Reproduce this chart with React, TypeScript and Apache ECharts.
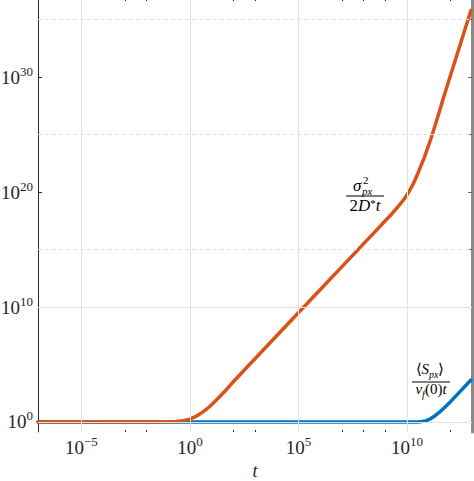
import React, { useEffect, useRef } from "react";
import * as echarts from "echarts";

// log10(t) sample positions and log10 of the plotted quantities
const logTSigma = [-7, -4, -1.5, -1, -0.6, -0.3, 0, 0.2, 0.4, 0.6, 0.8, 1, 1.3, 1.6, 2, 4, 6, 8, 9.3, 9.6, 9.9, 10.1, 10.3, 10.5, 10.8, 11.1, 11.4, 11.7, 12, 12.5, 12.95];
const logSigma = [0, 0, 0.005, 0.015, 0.05, 0.12, 0.25, 0.42, 0.62, 0.88, 1.17, 1.5, 2.06, 2.65, 3.5, 7.5, 11.5, 15.5, 18.1, 18.75, 19.45, 20.05, 20.75, 21.6, 23.0, 24.6, 26.4, 28.3, 30.1, 33.1, 35.8];
const logTS = [-7, 10, 10.5, 10.7, 10.9, 11.1, 11.3, 11.5, 11.7, 12, 12.5, 12.95];
const logS = [0, 0, 0.01, 0.04, 0.12, 0.3, 0.55, 0.85, 1.2, 1.75, 2.75, 3.65];

const xMajorTicks = [-5, 0, 5, 10];
const xMinorTicks = [-3, -2, 2, 3, 7, 8, 9, 12];
const yLabelTicks = [0, 10, 20, 30];
const yTickMarks = [0, 10, 15, 20, 25, 30, 35];
const xGridLines = [-5, 0, 5, 10];
const ySolidGrid = [0, 10];
const yDashedGrid = [15, 25, 35];

const X_MIN = -7;
const X_MAX = 13;
const Y_MIN = -0.87;
const Y_MAX = 36.8;

const FONT = "Liberation Serif";
const INK = "#262626";
const ORANGE = "#D95319";
const BLUE = "#0072BD";

const supText = (v: number) => (v < 0 ? "\u2212" + Math.abs(v) : String(v));

const labelRich = {
  b: { fontFamily: FONT, fontSize: 19, color: INK, verticalAlign: "bottom", lineHeight: 19 },
  s: { fontFamily: FONT, fontSize: 13, color: INK, verticalAlign: "bottom", lineHeight: 13, padding: [0, 0, 9, 0] },
};

export default function App() {
  const ref = useRef<HTMLDivElement>(null);
  useEffect(() => {
    const chart = echarts.init(ref.current!, null, { renderer: "svg" });
    const tickStyle = { color: INK, width: 1 };
    const mkX = (position: string, ticks: number[], len: number, extra: any = {}) => ({
      type: "value", min: X_MIN, max: X_MAX, position,
      axisLine: { show: false, onZero: false },
      axisTick: { show: true, inside: true, length: len, customValues: ticks, lineStyle: tickStyle },
      axisLabel: { show: false },
      splitLine: { show: false },
      ...extra,
    });
    const option: any = {
      animation: false,
      backgroundColor: "#fff",
      grid: { left: 38, right: 2, top: -1, bottom: 49, outerBoundsMode: "none", containLabel: false },
      xAxis: [
        mkX("bottom", xMajorTicks, 4, {
          axisLabel: {
            show: true, customValues: xMajorTicks, margin: 6, fontFamily: FONT,
            formatter: (v: number) => `{b|10}{s|${supText(v)}}`,
            rich: labelRich,
          },
          name: "t", nameLocation: "middle", nameGap: 30,
          nameTextStyle: { fontFamily: FONT, fontStyle: "italic", fontSize: 18, color: INK },
        }),
        mkX("bottom", xMinorTicks, 2),
        mkX("top", xMajorTicks, 4),
        mkX("top", xMinorTicks, 2),
      ],
      yAxis: [
        {
          type: "value", min: Y_MIN, max: Y_MAX, position: "left",
          axisLine: { show: true, onZero: false, lineStyle: { color: INK, width: 1 } },
          axisTick: { show: true, inside: true, length: 4, customValues: yTickMarks, lineStyle: tickStyle },
          axisLabel: {
            customValues: yLabelTicks, margin: 5, fontFamily: FONT,
            formatter: (v: number) => `{b|10}{s|${supText(v)}}`,
            rich: labelRich,
          },
          splitLine: { show: false },
        },
        {
          type: "value", min: Y_MIN, max: Y_MAX, position: "right",
          axisLine: { show: true, onZero: false, lineStyle: { color: "#8a8a8a", width: 3 } },
          axisTick: { show: true, inside: true, length: 4, customValues: yTickMarks, lineStyle: { color: "#666", width: 1 } },
          axisLabel: { show: false },
          splitLine: { show: false },
        },
      ],
      series: [
        {
          type: "line", z: 1, silent: true, xAxisIndex: 0, yAxisIndex: 0,
          data: [[X_MIN, Y_MIN]], showSymbol: false, lineStyle: { opacity: 0 },
          markLine: {
            silent: true, symbol: ["none", "none"], label: { show: false }, animation: false,
            emphasis: { disabled: true },
            data: [
              ...xGridLines.map((v) => ({ xAxis: v, lineStyle: { color: "#e2e2e2", width: 1, type: "solid" } })),
              ...ySolidGrid.map((v) => ({ yAxis: v, lineStyle: { color: "#e2e2e2", width: 1, type: "solid" } })),
              ...yDashedGrid.map((v) => ({ yAxis: v, lineStyle: { color: "#e0e0e0", width: 1, type: [4, 3] } })),
            ],
          },
        },
        {
          type: "line", z: 3, xAxisIndex: 0, yAxisIndex: 0,
          data: logTS.map((x, i) => [x, logS[i]]),
          showSymbol: false, smooth: false,
          lineStyle: { color: BLUE, width: 3.5, join: "round", cap: "round" }, itemStyle: { color: BLUE },
          emphasis: { disabled: true },
        },
        {
          type: "line", z: 4, xAxisIndex: 0, yAxisIndex: 0,
          data: logTSigma.map((x, i) => [x, logSigma[i]]),
          showSymbol: false, smooth: false,
          lineStyle: { color: ORANGE, width: 3.5, join: "round", cap: "round" }, itemStyle: { color: ORANGE },
          emphasis: { disabled: true },
        },
      ],
      graphic: [
        // sigma^2_px / (2 D* t)
        { type: "text", x: 353, y: 177, style: { text: "\u03c3", font: `italic 17px "${FONT}"`, fill: "#000" } },
        { type: "text", x: 363, y: 174, style: { text: "2", font: `11px "${FONT}"`, fill: "#000" } },
        { type: "text", x: 362, y: 185, style: { text: "px", font: `italic 11px "${FONT}"`, fill: "#000" } },
        { type: "line", shape: { x1: 346, y1: 196, x2: 384, y2: 196 }, style: { stroke: "#000", lineWidth: 1 } },
        {
          type: "text", x: 365, y: 197,
          style: {
            text: "{n|2}{i|D}{p|*}{i|t}", align: "center", textAlign: "center", fill: "#000",
            rich: {
              n: { fontFamily: FONT, fontSize: 17, verticalAlign: "bottom", lineHeight: 17 },
              i: { fontFamily: FONT, fontStyle: "italic", fontSize: 17, verticalAlign: "bottom", lineHeight: 17 },
              p: { fontFamily: FONT, fontSize: 11, verticalAlign: "bottom", lineHeight: 11, padding: [0, 0, 6, 0] },
            },
          },
        },
        // <S_px> / (v_f(0) t)
        {
          type: "text", x: 430, y: 364,
          style: {
            text: "{n|\u27e8}{i|S}{s|px}{n|\u27e9}", align: "center", textAlign: "center", fill: "#000",
            rich: {
              n: { fontFamily: FONT, fontSize: 15, verticalAlign: "bottom", lineHeight: 15, padding: [0, 0, 3, 0] },
              i: { fontFamily: FONT, fontStyle: "italic", fontSize: 15, verticalAlign: "bottom", lineHeight: 15, padding: [0, 0, 3, 0] },
              s: { fontFamily: FONT, fontStyle: "italic", fontSize: 10, verticalAlign: "bottom", lineHeight: 10 },
            },
          },
        },
        { type: "line", shape: { x1: 412, y1: 382, x2: 450, y2: 382 }, style: { stroke: "#000", lineWidth: 1 } },
        {
          type: "text", x: 431, y: 384,
          style: {
            text: "{i|v}{s|f}{n|(0)}{i|t}", align: "center", textAlign: "center", fill: "#000",
            rich: {
              n: { fontFamily: FONT, fontSize: 15, verticalAlign: "bottom", lineHeight: 15, padding: [0, 0, 3, 0] },
              i: { fontFamily: FONT, fontStyle: "italic", fontSize: 15, verticalAlign: "bottom", lineHeight: 15, padding: [0, 0, 3, 0] },
              s: { fontFamily: FONT, fontStyle: "italic", fontSize: 10, verticalAlign: "bottom", lineHeight: 10 },
            },
          },
        },
      ],
    };
    chart.setOption(option);
    return () => chart.dispose();
  }, []);
  return (
    <div
      ref={ref}
      style={{ position: "fixed", left: 0, top: 0, width: 474, height: 481, background: "#fff" }}
    />
  );
}
